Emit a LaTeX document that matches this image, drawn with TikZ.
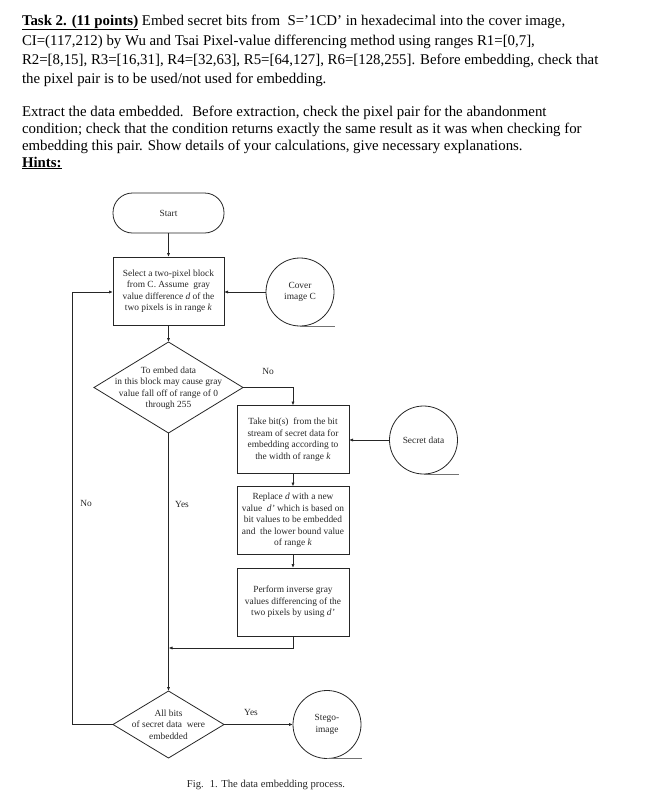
\documentclass[tikz,border=0pt]{standalone}
\usepackage{fontspec}
\setmainfont{Liberation Serif}
\usetikzlibrary{shapes.geometric,arrows.meta}
\begin{document}
\begin{tikzpicture}[x=1pt,y=-1pt,
  every node/.style={inner sep=0pt,outer sep=0pt},
  para/.style={anchor=base west,font=\fontsize{14.85}{19}\selectfont,text=black},
  fc/.style={font=\fontsize{9.4}{11.5}\selectfont,text=black!85,align=center},
  proc/.style={fc,draw=black!85,line width=0.9pt,rectangle,minimum width=112pt,minimum height=68pt},
  term/.style={fc,draw=black!85,line width=0.8pt,rectangle,rounded corners=19.5pt,minimum width=111pt,minimum height=40pt},
  store/.style={fc,draw=black!85,line width=0.8pt,circle,minimum size=68pt},
  dec/.style={draw=black!85,line width=0.8pt,diamond,minimum width=#1},
  lbl/.style={fc},
  flow/.style={draw=black!85,line width=0.8pt,-{Latex[length=4pt,width=3.2pt]}},
  tail/.style={draw=black!55,line width=0.9pt}
]
\useasboundingbox (0,0) rectangle (658,806);
% --- task text ---
\node[para] (t1) at (22,25) {\underline{\textbf{Task 2. (11 points)}} Embed secret bits from \ S=’1CD’ in hexadecimal into the cover image,};
\node[para] (t2) at (22,45) {CI=(117,212) by Wu and Tsai Pixel-value differencing method using ranges R1=[0,7],};
\node[para] (t3) at (22,64) {R2=[8,15], R3=[16,31], R4=[32,63], R5=[64,127], R6=[128,255]. Before embedding, check that};
\node[para] (t4) at (22,83) {the pixel pair is to be used/not used for embedding.};
\node[para] (t5) at (22,116) {Extract the data embedded. \ Before extraction, check the pixel pair for the abandonment};
\node[para] (t6) at (22,133) {condition; check that the condition returns exactly the same result as it was when checking for};
\node[para] (t7) at (22,150) {embedding this pair. Show details of your calculations, give necessary explanations.};
\node[para] (t8) at (22,167) {\underline{\textbf{Hints:}}};
% --- flowchart nodes ---
\node[term] (start) at (168.5,213) {Start};
\node[proc,minimum width=111pt] (select) at (168.5,291) {Select a two-pixel block\\from C. Assume \ gray\\value difference \textit{d} of the\\two pixels is in range \textit{k}};
\node[store] (cover) at (300,292) {Cover\\image C};
\node[dec,minimum height=91pt,minimum width=149pt] (d1) at (168.5,387.5) {};
\node[fc] (d1t) at (168.5,388) {To embed data\\in this block may cause gray\\value fall off of range of 0\\through 255};
\node[proc] (take) at (293,439.5) {Take bit(s) \ from the bit\\stream of secret data for\\embedding according to\\the width of range \textit{k}};
\node[store] (secret) at (423.5,440) {Secret data};
\node[proc] (replace) at (293,520.5) {Replace \textit{d} with a new\\value \ \textit{d'} which is based on\\bit values to be embedded\\and \ the lower bound value\\of range \textit{k}};
\node[proc] (perform) at (293,602) {Perform inverse gray\\values differencing of the\\two pixels by using \textit{d'}};
\node[dec,minimum height=67pt,minimum width=111pt] (d2) at (168.5,724.5) {};
\node[fc] (d2t) at (168.5,724.5) {All bits\\of secret data \ were\\embedded};
\node[store] (stego) at (327,724.5) {Stego-\\image};
\coordinate (ret) at (168.5,648);
\coordinate (lft) at (72,724.5);
% --- labels ---
\node[lbl] (no1) at (268,371) {No};
\node[lbl] (no2) at (86,503) {No};
\node[lbl] (yes1) at (182,504) {Yes};
\node[lbl] (yes2) at (251,712) {Yes};
\node[fc,font=\fontsize{10.6}{12}\selectfont] (cap) at (266,785) {Fig. \ 1. The data embedding process.};
% --- connectors ---
\draw[flow] (start.south) -- (select.north);
\draw[flow] (select.south) -- (d1.north);
\draw[flow] (d1.south) -- (d2.north);
\draw[flow] (d1.east) -| (take.north);
\draw[flow] (take.south) -- (replace.north);
\draw[flow] (replace.south) -- (perform.north);
\draw[flow] (perform.south) |- (ret);
\draw[flow] (secret.west) -- (secret.west -| take.east);
\draw[flow] (cover.west) -- (cover.west -| select.east);
\draw[flow] (d2.east) -- (stego.west);
\draw[flow] (d2.west) -- (lft) |- (select.west |- cover.west);
% --- storage tails ---
\draw[tail] (cover.south) -- ++(35,0);
\draw[tail] (secret.south) -- ++(35,0);
\draw[tail] (stego.south) -- ++(35,0);
\end{tikzpicture}
\end{document}
